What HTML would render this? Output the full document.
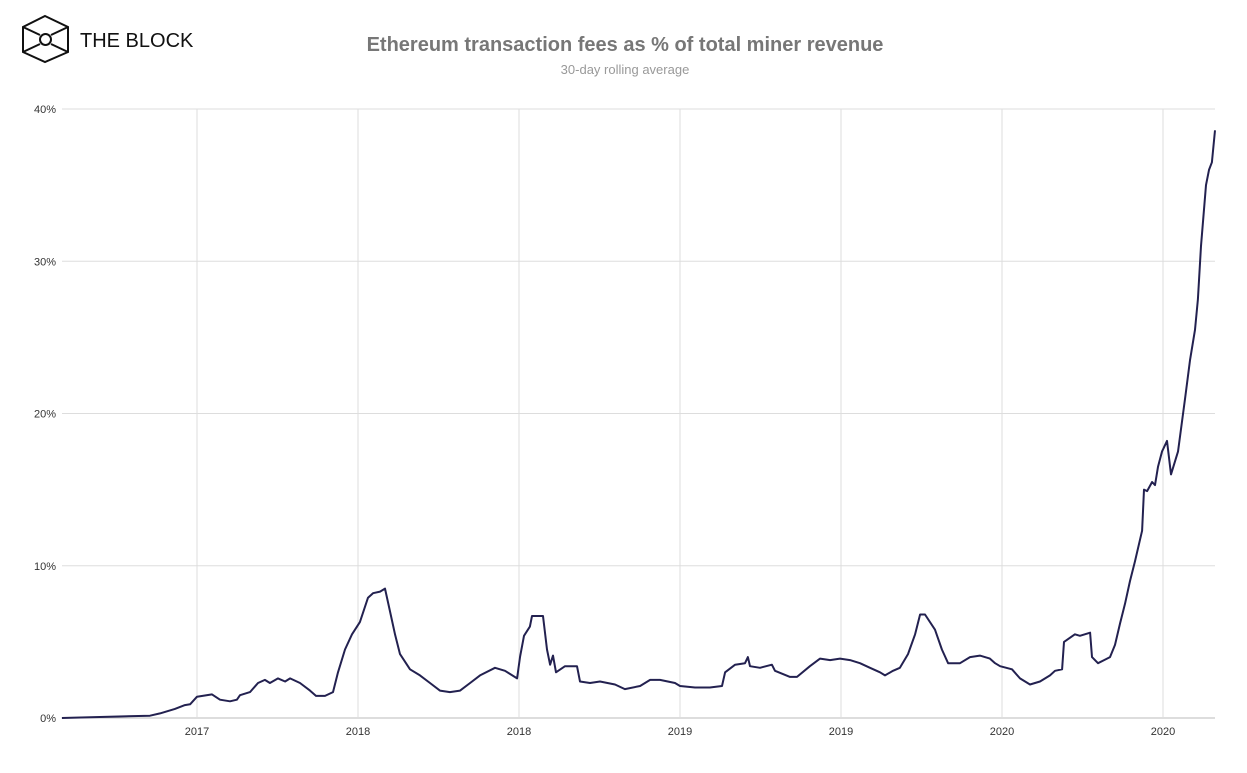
<!DOCTYPE html>
<html><head><meta charset="utf-8"><style>
body{margin:0;background:#fff;width:1247px;height:768px;overflow:hidden;font-family:"Liberation Sans",sans-serif}
</style></head><body>
<svg width="1247" height="768" viewBox="0 0 1247 768">
<g fill="none" stroke="#111" stroke-width="2">
<polygon points="45,16 68,27 68,52 45,62 23,52 23,27"/>
<line x1="23" y1="27" x2="40" y2="35"/><line x1="68" y1="27" x2="51" y2="35"/>
<line x1="23" y1="52" x2="40" y2="44"/><line x1="68" y1="52" x2="51" y2="44"/>
<circle cx="45.5" cy="39.5" r="5.5"/>
</g>
<text x="80" y="47" font-size="20" fill="#111">THE BLOCK</text>
<text x="625" y="51" text-anchor="middle" font-size="20" font-weight="bold" fill="#777">Ethereum transaction fees as % of total miner revenue</text>
<text x="625" y="74" text-anchor="middle" font-size="13" fill="#999">30-day rolling average</text>
<g id="grid"></g><g id="axes"></g><path id="line" fill="none" stroke="#232150" stroke-width="2" stroke-linejoin="round"/>
</svg>
<script>
const yTicks=[0,10,20,30,40];
const xTickLabels=["2017","2018","2018","2019","2019","2020","2020"];
// t = half-years since first tick (2017)
const tVals=[-0.839,-0.292,-0.230,-0.137,-0.075,-0.043,0,0.093,0.143,0.205,0.248,0.267,0.329,0.379,0.422,0.453,0.503,0.547,0.578,0.640,0.702,0.739,0.795,0.845,0.876,0.919,0.963,1.012,1.062,1.093,1.137,1.168,1.199,1.230,1.261,1.323,1.385,1.447,1.509,1.571,1.634,1.696,1.758,1.851,1.913,1.988,2.006,2.031,2.068,2.081,2.149,2.174,2.193,2.211,2.230,2.286,2.360,2.379,2.441,2.503,2.596,2.658,2.752,2.814,2.876,2.969,3.000,3.093,3.186,3.261,3.280,3.342,3.404,3.422,3.435,3.497,3.571,3.590,3.683,3.727,3.807,3.870,3.932,3.994,4.056,4.118,4.180,4.242,4.273,4.323,4.366,4.416,4.460,4.491,4.522,4.584,4.627,4.665,4.739,4.801,4.863,4.925,4.957,4.988,5.062,5.112,5.174,5.236,5.298,5.329,5.373,5.385,5.453,5.484,5.547,5.559,5.596,5.634,5.671,5.702,5.733,5.764,5.795,5.826,5.870,5.882,5.901,5.932,5.950,5.969,5.994,6.025,6.050,6.093,6.137,6.168,6.199,6.217,6.236,6.267,6.286,6.304,6.323];
const feePct=[0,0.15,0.3,0.6,0.85,0.9,1.4,1.55,1.2,1.1,1.2,1.5,1.7,2.3,2.5,2.3,2.6,2.4,2.6,2.3,1.8,1.45,1.45,1.7,3.0,4.5,5.5,6.3,7.9,8.2,8.3,8.5,7.0,5.5,4.2,3.2,2.8,2.3,1.8,1.7,1.8,2.3,2.8,3.3,3.1,2.6,4.0,5.4,6.0,6.7,6.7,4.5,3.5,4.1,3.0,3.4,3.4,2.4,2.3,2.4,2.2,1.9,2.1,2.5,2.5,2.3,2.1,2.0,2.0,2.1,3.0,3.5,3.6,4.0,3.4,3.3,3.5,3.1,2.7,2.7,3.4,3.9,3.8,3.9,3.8,3.6,3.3,3.0,2.8,3.1,3.3,4.2,5.5,6.8,6.8,5.8,4.5,3.6,3.6,4.0,4.1,3.9,3.6,3.4,3.2,2.6,2.2,2.4,2.8,3.1,3.2,5.0,5.5,5.4,5.6,4.0,3.6,3.8,4.0,4.8,6.2,7.5,9.0,10.3,12.3,15.0,14.9,15.5,15.3,16.5,17.5,18.2,16.0,17.5,21.0,23.5,25.5,27.5,31.0,35.0,36.0,36.5,38.6];
const X=t=>197+t*161, Y=v=>718-v*15.225;
const ns="http://www.w3.org/2000/svg";
const grid=document.getElementById('grid'), axes=document.getElementById('axes');
function mk(tag,attrs,parent){const e=document.createElementNS(ns,tag);for(const k in attrs)e.setAttribute(k,attrs[k]);parent.appendChild(e);return e;}
yTicks.forEach(v=>{
 const l=mk('line',{x1:62,x2:1215,y1:Y(v),y2:Y(v),stroke:v===0?'#bbb':'#ddd','stroke-width':1},grid);
 
 
 const t=mk('text',{x:56,y:Y(v)+4,'text-anchor':'end','font-size':11,fill:'#333'},axes);
 t.textContent=v+'%';
 
 
});
xTickLabels.forEach((s,i)=>{
 const l=mk('line',{x1:X(i),x2:X(i),y1:Y(40),y2:Y(0),stroke:'#ddd','stroke-width':1},grid);
 
 
 const t=mk('text',{x:X(i),y:735,'text-anchor':'middle','font-size':11,fill:'#333'},axes);
 t.textContent=s;
 
 
});
const n=Math.min(tVals.length,feePct.length);
let d='';
for(let i=0;i<n;i++)d+=(i?'L':'M')+X(tVals[i]).toFixed(1)+','+Y(feePct[i]).toFixed(1);
document.getElementById('line').setAttribute('d',d);
</script>
</body></html>
